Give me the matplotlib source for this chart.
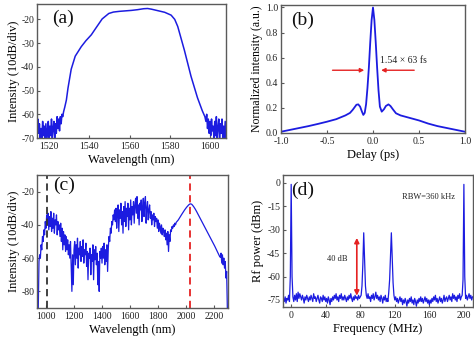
import numpy as np
import matplotlib
matplotlib.use("Agg")
import matplotlib.pyplot as plt

plt.rcParams['font.family'] = ['Liberation Serif', 'DejaVu Serif']
plt.rcParams['axes.unicode_minus'] = False

BLUE = '#1c1ce0'
RED = '#e52222'

# (a) optical spectrum of the pump
a_wl = [1514.0, 1514.4, 1514.8, 1515.2, 1515.6, 1516.0, 1516.4, 1516.8, 1517.2, 1517.6,
        1518.0, 1518.4, 1518.8, 1519.2, 1519.6, 1520.0, 1520.4, 1520.8, 1521.2, 1521.6,
        1522.0, 1522.4, 1522.8, 1523.2, 1523.6, 1524.0, 1524.4, 1524.8, 1525.2, 1525.6,
        1526.0, 1526.4, 1526.8, 1527.2, 1527.8, 1528.6, 1529.4, 1530.2, 1531.0, 1533.0,
        1536.0, 1538.3, 1541.0, 1543.0, 1546.4, 1549.7, 1552.0, 1555.0, 1558.0, 1561.0,
        1564.0, 1567.0, 1569.0, 1571.0, 1574.0, 1577.5, 1580.7, 1582.5, 1584.0, 1587.3,
        1590.6, 1593.8, 1596.2, 1597.5, 1598.0, 1598.4, 1598.8, 1599.2, 1599.6, 1600.0,
        1600.4, 1600.8, 1601.2, 1601.6, 1602.0, 1602.4, 1602.8, 1603.2, 1603.6, 1604.0,
        1604.4, 1604.8, 1605.2, 1605.6, 1606.0, 1606.4, 1606.8, 1607.2, 1607.6, 1608.0]
a_db = [-70, -62, -68, -64, -70, -66, -70, -63, -69, -65,
        -70, -64, -70, -67, -63, -70, -65, -69, -62, -70,
        -66, -63, -70, -64, -68, -61, -66, -62, -67, -61,
        -64, -60, -61, -59, -57, -54, -49, -45, -41, -35.5,
        -31.5, -29, -26.5, -24, -19.8, -17.5, -16.9, -16.6, -16.4, -16.2,
        -15.9, -15.5, -15.4, -15.7, -16.3, -17.0, -18.2, -20.0, -23.0, -33.0,
        -44.0, -53.0, -58.5, -61, -63, -60, -66, -62, -68, -63,
        -69, -62, -67, -65, -70, -63, -69, -61, -70, -66,
        -62, -70, -64, -68, -62, -70, -65, -70, -63, -70]

# (b) autocorrelation trace
b_delay = [-1.0, -0.9, -0.8, -0.7, -0.6, -0.5, -0.4, -0.3, -0.25, -0.22, -0.2, -0.18,
           -0.16, -0.14, -0.12, -0.105, -0.09, -0.075, -0.06, -0.045, -0.03, -0.015, 0.0,
           0.015, 0.03, 0.045, 0.06, 0.075, 0.095, 0.12, 0.14, 0.168, 0.19, 0.22,
           0.25, 0.3, 0.4, 0.5, 0.6, 0.7, 0.8, 0.9, 1.0]
b_int = [0.01, 0.025, 0.04, 0.055, 0.072, 0.09, 0.11, 0.14, 0.16, 0.185, 0.205, 0.225,
         0.228, 0.21, 0.17, 0.144, 0.16, 0.23, 0.36, 0.52, 0.72, 0.9, 1.0,
         0.9, 0.72, 0.52, 0.34, 0.21, 0.17, 0.19, 0.215, 0.228, 0.215, 0.185,
         0.157, 0.14, 0.12, 0.10, 0.075, 0.055, 0.04, 0.025, 0.01]

# (c) supercontinuum spectrum, 5 nm steps starting at 945 nm
c_start, c_step = 945, 5
c_db = [-90, -62, -58, -60, -52, -55, -47, -50, -43, -46,
        -38, -42, -34, -40, -33, -43, -35, -41, -32, -44,
        -36, -42, -33, -45, -37, -40, -34, -46, -38, -43,
        -40, -47, -39, -50, -42, -55, -44, -52, -46, -56,
        -47, -55, -49, -58, -52, -60, -50, -66, -80, -58,
        -76, -55, -50, -64, -52, -60, -48, -66, -54, -58,
        -50, -62, -53, -59, -49, -63, -55, -58, -51, -65,
        -56, -73, -57, -60, -54, -70, -58, -62, -52, -73,
        -55, -61, -53, -64, -57, -76, -62, -80, -56, -60,
        -54, -63, -53, -60, -51, -64, -55, -62, -52, -68,
        -54, -47, -50, -42, -45, -38, -40, -34, -37, -31,
        -38, -30, -42, -33, -28, -44, -31, -36, -27, -40,
        -32, -45, -29, -38, -26, -41, -30, -35, -27, -43,
        -30, -37, -25, -40, -29, -34, -26, -39, -28, -24,
        -33, -23, -36, -28, -40, -27, -31, -25, -38, -29,
        -24, -35, -27, -23, -39, -30, -26, -37, -31, -28,
        -36, -32, -40, -34, -37, -33, -41, -35, -38, -36,
        -42, -37, -44, -39, -41, -45, -40, -46, -42, -44,
        -47, -43, -49, -45, -52, -44, -56, -46, -50, -43,
        -44, -41, -42, -40, -41, -39, -40, -38.5, -38, -37.5,
        -37, -36.3, -35.6, -35, -34.3, -33.6, -33, -32.3, -31.6, -31,
        -30.4, -29.8, -29.3, -28.8, -28.3, -27.9, -27.6, -27.4, -27.4, -27.6,
        -28, -28.5, -29.1, -29.7, -30.4, -31.1, -31.9, -32.7, -33.5, -34.3,
        -35.1, -35.9, -36.7, -37.5, -38.3, -39.1, -39.9, -40.7, -41.5, -42.3,
        -43.1, -43.9, -44.7, -45.5, -46.3, -47.1, -47.9, -48.7, -49.5, -50.3,
        -51.1, -52, -52.8, -53.7, -54.6, -55.5, -56.4, -57.3, -58.2, -59,
        -59.5, -57, -63, -58, -64, -60, -66, -62, -72, -68,
        -90, -90]
c_marks = [1005, 2030]

# (d) RF spectrum, 1 MHz steps starting at -9 MHz
d_start, d_step = -9, 1
d_dbm = [-74, -76, -73, -77, -74, -75, -72, -76, -60, -1,
         -60, -73, -76, -72, -75, -71, -76, -70, -74, -71,
         -73, -75, -72, -74, -77, -73, -75, -72, -74, -76,
         -73, -75, -72, -74, -76, -71, -74, -73, -76, -74,
         -72, -75, -77, -73, -74, -76, -72, -75, -73, -76,
         -74, -77, -73, -75, -78, -74, -76, -73, -75, -72,
         -74, -71, -75, -73, -76, -72, -74, -71, -75, -73,
         -75, -72, -74, -76, -73, -75, -72, -74, -71, -74,
         -76, -73, -75, -72, -74, -73, -75, -72, -74, -73,
         -72, -66, -52, -32, -50, -66, -72, -74, -71, -74,
         -73, -76, -72, -74, -71, -75, -73, -70, -74, -72,
         -75, -73, -76, -72, -74, -77, -73, -75, -72, -76,
         -74, -76, -70, -62, -46, -32, -48, -64, -72, -75,
         -73, -76, -74, -77, -75, -73, -76, -74, -78, -75,
         -77, -74, -76, -79, -75, -77, -74, -76, -73, -77,
         -75, -78, -74, -76, -79, -75, -77, -74, -76, -73,
         -76, -74, -77, -75, -73, -76, -74, -77, -75, -78,
         -75, -77, -74, -76, -73, -75, -72, -76, -74, -77,
         -75, -73, -76, -74, -77, -75, -72, -76, -74, -73,
         -76, -74, -72, -75, -73, -76, -71, -74, -72, -75,
         -73, -76, -72, -74, -71, -75, -73, -72, -62, -1,
         -60, -74, -72, -75, -73, -71, -74, -72, -75, -73]

c_wl = c_start + c_step * np.arange(len(c_db))
d_freq = d_start + d_step * np.arange(len(d_dbm))

fig = plt.figure(figsize=(4.74, 3.41), dpi=100)
ax_a = fig.add_axes([0.0781, 0.5953, 0.3987, 0.393])
ax_b = fig.add_axes([0.5928, 0.61, 0.3882, 0.3754])
ax_c = fig.add_axes([0.0781, 0.0968, 0.403, 0.39])
ax_d = fig.add_axes([0.597, 0.0997, 0.4008, 0.3871])


def style(ax, label, lx, ly):
    for s in ax.spines.values():
        s.set_color('#5a5a5a')
        s.set_linewidth(1.0)
    ax.tick_params(direction='in', length=2.5, width=0.8, labelsize=7,
                   colors='#5a5a5a', labelcolor='#222222', pad=2)
    ax.tick_params(axis='x', pad=3)
    ax.text(lx, ly, label, transform=ax.transAxes, fontsize=14,
            ha='left', va='center', color='#111111')


# (a)
ax_a.plot(a_wl, a_db, color=BLUE, lw=1.1)
ax_a.set_xlim(1514, 1608)
ax_a.set_ylim(-70, -13.5)
ax_a.set_xticks([1520, 1540, 1560, 1580, 1600])
ax_a.set_yticks([-20, -30, -40, -50, -60, -70])
ax_a.set_xlabel('Wavelength (nm)', fontsize=9, labelpad=2)
ax_a.set_ylabel('Intensity (10dB/div)', fontsize=9, labelpad=1)
style(ax_a, '(a)', 0.08, 0.89)

# (b)
ax_b.plot(b_delay, b_int, color=BLUE, lw=1.3)
ax_b.set_xlim(-1, 1)
ax_b.set_ylim(0, 1.02)
ax_b.set_xticks([-1.0, -0.5, 0.0, 0.5, 1.0])
ax_b.set_yticks([0.0, 0.2, 0.4, 0.6, 0.8, 1.0])
ax_b.xaxis.set_major_formatter(matplotlib.ticker.FormatStrFormatter('%.1f'))
ax_b.yaxis.set_major_formatter(matplotlib.ticker.FormatStrFormatter('%.1f'))
ax_b.set_xlabel('Delay (ps)', fontsize=9, labelpad=2)
ax_b.set_ylabel('Normalized intensity (a.u.)', fontsize=8.5, labelpad=2)
ax_b.annotate('', xy=(-0.065, 0.5), xytext=(-0.47, 0.5),
              arrowprops=dict(arrowstyle='-|>', color=RED, lw=1.0, mutation_scale=6))
ax_b.annotate('', xy=(0.058, 0.5), xytext=(0.478, 0.5),
              arrowprops=dict(arrowstyle='-|>', color=RED, lw=1.0, mutation_scale=6))
ax_b.text(0.075, 0.575, '1.54 × 63 fs', fontsize=7, ha='left', va='center', color='#222222')
style(ax_b, '(b)', 0.055, 0.88)

# (c)
ax_c.plot(c_wl, c_db, color=BLUE, lw=0.9)
ax_c.axvline(c_marks[0], color='#333333', lw=1.3, ls=(0, (4, 2.5)))
ax_c.axvline(c_marks[1], color=RED, lw=1.3, ls=(0, (4, 2.5)))
ax_c.set_xlim(936, 2300)
ax_c.set_ylim(-90, -10)
ax_c.set_xticks([1000, 1200, 1400, 1600, 1800, 2000, 2200])
ax_c.set_yticks([-20, -40, -60, -80])
ax_c.set_xlabel('Wavelength (nm)', fontsize=9, labelpad=2)
ax_c.set_ylabel('Intensity (10dB/div)', fontsize=9, labelpad=1)
style(ax_c, '(c)', 0.085, 0.925)

# (d)
ax_d.plot(d_freq, d_dbm, color=BLUE, lw=0.9)
ax_d.annotate('', xy=(76, -33.5), xytext=(76, -74),
              arrowprops=dict(arrowstyle='<|-|>', color=RED, lw=1.2, mutation_scale=7))
ax_d.text(53, -49, '40 dB', fontsize=6, ha='center', va='center', color='#222222')
ax_d.text(159, -9, 'RBW=360 kHz', fontsize=6, ha='center', va='center', color='#222222')
ax_d.set_xlim(-9.5, 210.5)
ax_d.set_ylim(-79.5, 5)
ax_d.set_xticks([0, 40, 80, 120, 160, 200])
ax_d.set_yticks([0, -15, -30, -45, -60, -75])
ax_d.set_xlabel('Frequency (MHz)', fontsize=9, labelpad=2)
ax_d.set_ylabel('Rf power (dBm)', fontsize=9, labelpad=2)
style(ax_d, '(d)', 0.045, 0.886)

fig.savefig('out.png', dpi=100)
